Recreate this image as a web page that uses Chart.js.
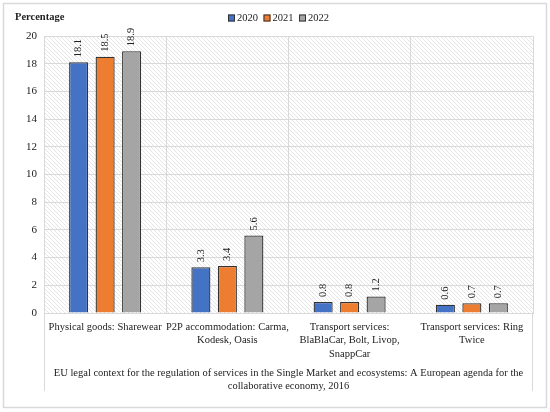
<!DOCTYPE html>
<html><head><meta charset="utf-8">
<style>html,body{margin:0;padding:0;background:#fff;}#wrap{width:550px;height:412px;position:relative;}</style>
<script src="https://cdn.jsdelivr.net/npm/chart.js@4.4.0/dist/chart.umd.min.js"></script>
</head><body><div id="wrap"><canvas id="c" width="550" height="412"></canvas></div>
<script>
const categories = [
  ["Physical goods: Sharewear"],
  ["P2P accommodation: Carma,", "Kodesk, Oasis"],
  ["Transport services:", "BlaBlaCar, Bolt, Livop,", "SnappCar"],
  ["Transport services: Ring", "Twice"]
];
const seriesNames = ["2020", "2021", "2022"];
const values2020 = [18.1, 3.3, 0.8, 0.6];
const values2021 = [18.5, 3.4, 0.8, 0.7];
const values2022 = [18.9, 5.6, 1.2, 0.7];
const seriesColors = ["#4472C4", "#ED7D31", "#A5A5A5"];
const yMin = 0, yMax = 20, yStep = 2;
const yAxisLabel = "Percentage";
const xAxisTitle = ["EU legal context for the regulation of services in the Single Market and ecosystems: A European agenda for the", "collaborative economy, 2016"];

const FONT = "'Liberation Serif', 'Times New Roman', serif";
const TXT = "#222";

const pat = document.createElement('canvas');
pat.width = 4; pat.height = 4;
(function(){
  const p = pat.getContext('2d');
  p.fillStyle = '#fff'; p.fillRect(0,0,4,4);
  p.strokeStyle = 'rgba(0,0,0,0.10)'; p.lineWidth = 1;
  p.beginPath(); p.moveTo(-1,-1); p.lineTo(5,5); p.stroke();
})();

const decor = {
  id: 'decor',
  beforeDraw(chart) {
    const ctx = chart.ctx, a = chart.chartArea;
    ctx.save();
    ctx.fillStyle = '#fff';
    ctx.fillRect(0, 0, chart.width, chart.height);
    ctx.fillStyle = ctx.createPattern(pat, 'repeat');
    ctx.fillRect(a.left, a.top, a.right - a.left, a.bottom - a.top);
    ctx.restore();
  },
  afterDraw(chart) {
    const ctx = chart.ctx, a = chart.chartArea;
    ctx.save();
    // extended side lines
    ctx.strokeStyle = '#d9d9d9'; ctx.lineWidth = 1;
    ctx.beginPath();
    ctx.moveTo(a.left + 0.5, a.bottom); ctx.lineTo(a.left + 0.5, 391);
    ctx.moveTo(a.right - 0.5, a.bottom); ctx.lineTo(a.right - 0.5, 391);
    ctx.stroke();
    // data labels
    ctx.fillStyle = TXT;
    ctx.font = "10.5px " + FONT;
    ctx.textAlign = 'left'; ctx.textBaseline = 'middle';
    chart.data.datasets.forEach((ds, i) => {
      chart.getDatasetMeta(i).data.forEach((el, j) => {
        ctx.save();
        ctx.translate(el.x, el.y - 5);
        ctx.rotate(-Math.PI / 2);
        ctx.fillText(ds.data[j].toFixed(1), 0, 0);
        ctx.restore();
      });
    });
    // y label
    ctx.font = "bold 10.5px " + FONT;
    ctx.textAlign = 'left';
    ctx.fillText(yAxisLabel, 15, 17);
    // legend
    ctx.font = "10.5px " + FONT;
    let lx = 228;
    seriesNames.forEach((n, i) => {
      ctx.fillStyle = seriesColors[i];
      ctx.fillRect(lx, 14.5, 7, 7);
      ctx.strokeStyle = '#333'; ctx.lineWidth = 1;
      ctx.strokeRect(lx + 0.5, 14.5 + 0.5, 6, 6);
      ctx.fillStyle = TXT;
      ctx.fillText(n, lx + 9, 18.5);
      lx += 35.5;
    });
    // x axis title
    ctx.textAlign = 'center';
    const cx = (a.left + a.right) / 2;
    ctx.fillText(xAxisTitle[0], cx, 373);
    ctx.fillText(xAxisTitle[1], cx, 386);
    // outer border
    ctx.strokeStyle = '#d9d9d9'; ctx.lineWidth = 1.5;
    ctx.strokeRect(3.5, 3.5, 543, 404);
    ctx.restore();
  }
};

const vals = [values2020, values2021, values2022];
new Chart(document.getElementById('c'), {
  type: 'bar',
  data: {
    labels: categories,
    datasets: seriesNames.map((n, i) => ({
      label: n,
      data: vals[i],
      backgroundColor: seriesColors[i],
      borderColor: '#333',
      borderWidth: 1.3,
      categoryPercentage: 0.65,
      barPercentage: 0.72
    }))
  },
  options: {
    responsive: false,
    animation: false,
    devicePixelRatio: 1,
    layout: { padding: { top: 36, right: 17, left: 0, bottom: 0 } },
    plugins: { legend: { display: false }, tooltip: { enabled: false } },
    scales: {
      x: {
        afterFit: s => { s.height = 99; },
        grid: { offset: true, color: '#d9d9d9', drawTicks: false },
        border: { color: '#d9d9d9' },
        ticks: { color: TXT, font: { family: FONT, size: 10.5, lineHeight: 1.25 }, padding: 8, maxRotation: 0, autoSkip: false }
      },
      y: {
        min: yMin, max: yMax,
        afterFit: s => { s.width = 44; },
        grid: { color: '#d9d9d9', drawTicks: false },
        border: { color: '#d9d9d9' },
        ticks: { stepSize: yStep, color: TXT, font: { family: FONT, size: 11 }, padding: 7 }
      }
    }
  },
  plugins: [decor]
});
</script></body></html>
